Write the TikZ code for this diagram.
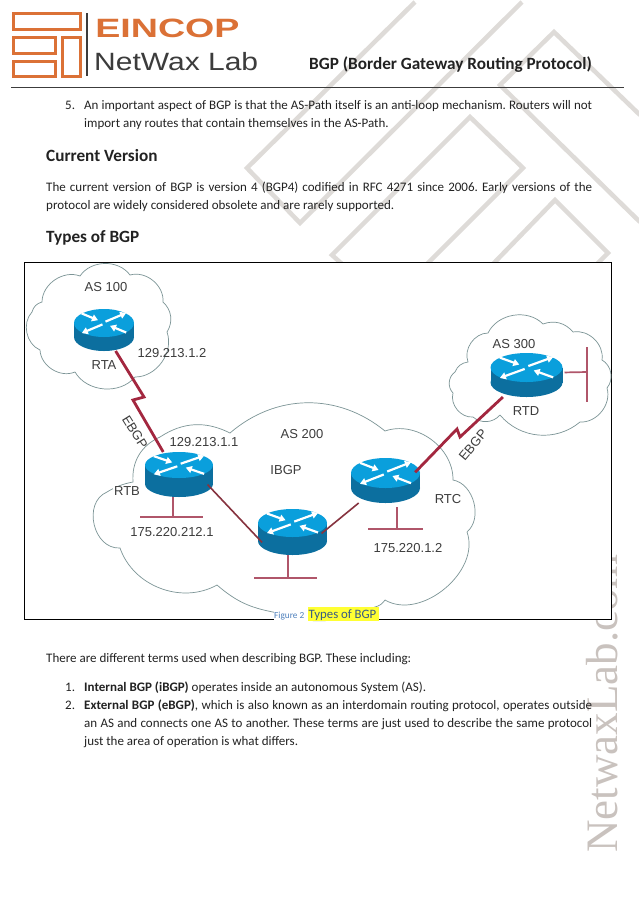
\documentclass[tikz,border=0pt]{standalone}
\usepackage{fontspec}
\setmainfont{Carlito}
\newfontfamily\lib{Liberation Sans}
\newfontfamily\libs{Liberation Serif}
\usetikzlibrary{arrows.meta}
\definecolor{wm}{HTML}{DEDBD8}
\definecolor{wmtext}{HTML}{C9C2BE}
\definecolor{logoor}{HTML}{DB7136}
\definecolor{cloudc}{HTML}{7C9496}
\definecolor{rtop}{HTML}{0A9FDC}
\definecolor{rbody}{HTML}{0C6F9F}
\definecolor{ebgpc}{HTML}{A3273F}
\definecolor{ibgpc}{HTML}{86333F}
\definecolor{stubc}{HTML}{B0566A}
\definecolor{labc}{HTML}{3C3C3C}
\definecolor{txt}{HTML}{222222}
\definecolor{capblue}{HTML}{4F81BD}
\definecolor{capyellow}{HTML}{FFFF33}
\tikzset{
  x=1pt,y=-1pt,
  wmline/.style={draw=wm,line width=4.5pt,line join=miter},
  logobox/.style={draw=logoor,line width=3pt},
  cloudline/.style={draw=cloudc,line width=.7pt},
  lobe/.style={bend left=55},
  ebgp/.style={draw=ebgpc,line width=2.8pt,line join=miter},
  ibgp/.style={draw=ibgpc,line width=1.6pt},
  stub/.style={draw=stubc,line width=1.7pt},
  lab/.style={font=\lib\fontsize{13}{15}\selectfont,text=labc,inner sep=0pt},
  body/.style={font=\fontsize{13}{15}\selectfont,text=txt,anchor=base west,inner sep=0pt},
  head/.style={font=\bfseries\fontsize{17.2}{20}\selectfont,text=txt,anchor=base west,inner sep=0pt},
  rarrow/.style={draw=white,line width=2.2pt,-{Triangle[width=7pt,length=6pt]}},
  routerbox/.style={inner sep=0pt,outer sep=0pt}
}
\newcommand{\router}[6]{%
  \begin{scope}[shift={(#2,#3)}]
    \fill[rbody] (-#4,0) rectangle (#4,#6);
    \fill[rbody] (0,#6) ellipse [x radius=#4,y radius=#5];
    \fill[rtop] (0,0) ellipse [x radius=#4,y radius=#5];
    \begin{scope}[xscale=#4,yscale=#5,x=1pt,y=-1pt]
      \draw[rarrow] (-.74,-.68) -- (-.2,-.2);
      \draw[rarrow] (.74,.68) -- (.2,.2);
      \draw[rarrow] (.05,-.1) -- (.74,-.72);
      \draw[rarrow] (-.05,.1) -- (-.74,.72);
    \end{scope}
    \node[routerbox,minimum width={2*#4*1pt},minimum height={(2*#5+#6)*1pt}] (#1) at (0,{#6/2}) {};
  \end{scope}}
\begin{document}
\frenchspacing
\begin{tikzpicture}
\useasboundingbox (0,0) rectangle (638,903);
\fill[white] (0,0) rectangle (638,903);
% watermark
\draw[wmline] (415,2) -- (247,168) -- (300,223) -- (522,2);
\draw[wmline] (342,264) -- (332,255) -- (470,117) -- (523,168) -- (427,264);
\draw[wmline] (640,115) -- (554,32) -- (500,85) -- (640,222);
\draw[wmline] (493,264) -- (555,200) -- (608,253) -- (597,264);
\node[font=\libs\fontsize{45}{50}\selectfont,text=wmtext,rotate=90,anchor=base west,inner sep=0pt] (wmt) at (617,853) {NetwaxLab.com};
% logo
\draw[logobox] (13,13) rectangle (80,29);
\draw[logobox] (13,37) rectangle (55,53);
\draw[logobox] (13,61) rectangle (55,76);
\draw[logobox] (62,37) rectangle (80,76);
\draw[draw=labc,line width=1.2pt] (87,13) -- (87,76);
\node[font=\lib\bfseries\fontsize{26.5}{28}\selectfont,text=logoor,anchor=base west,inner sep=0pt,xscale=1.42] (einc) at (95,37) {EINCOP};
\node[font=\lib\fontsize{25}{28}\selectfont,text=labc,anchor=base west,inner sep=0pt,xscale=1.2] (nwl) at (94,70) {NetWax Lab};
% header
\node[body,font=\bfseries\fontsize{17.2}{20}\selectfont] (title) at (309,69) {BGP (Border Gateway Routing Protocol)};
\draw[labc,line width=.8pt] (11,87.5) -- (624,87.5);
% text
\node[body] (n5) at (65,109) {5.};
\node[body] (l1) at (84,109) {\makebox[508pt][s]{An important aspect of BGP is that the AS-Path itself is an anti-loop mechanism. Routers will not}};
\node[body] (l2) at (84,127) {import any routes that contain themselves in the AS-Path.};
\node[head] (h1) at (46,161) {Current Version};
\node[body] (l3) at (46,191) {\makebox[546pt][s]{The current version of BGP is version 4 (BGP4) codified in RFC 4271 since 2006. Early versions of the}};
\node[body] (l4) at (46,209) {protocol are widely considered obsolete and are rarely supported.};
\node[head] (h2) at (46,242) {Types of BGP};
\node[body] (l5) at (46,662) {There are different terms used when describing BGP. These including:};
\node[body] (n1) at (65,691) {1.};
\node[body] (l6) at (84,691) {\textbf{Internal BGP (iBGP)} operates inside an autonomous System (AS).};
\node[body] (n2) at (65,709) {2.};
\node[body] (l7) at (84,709) {\makebox[508pt][s]{\textbf{External BGP (eBGP)}, which is also known as an interdomain routing protocol, operates outside}};
\node[body] (l8) at (84,727) {\makebox[508pt][s]{an AS and connects one AS to another. These terms are just used to describe the same protocol}};
\node[body] (l9) at (84,745) {just the area of operation is what differs.};
% figure frame
\filldraw[fill=white,draw=black,line width=1pt] (24.5,262.5) rectangle (611,619);
% clouds
\draw[cloudline] (42,302) to[lobe] (80,276) to[lobe] (130,275) to[lobe] (163,302) to[bend left=40] (167,332)
  to[lobe] (135,377) to[lobe] (75,372) to[lobe] (40,350) to[lobe] (32,312) to[bend left=30] cycle;
\draw[cloudline] (468,362) to[lobe] (488,333) to[lobe] (543,324) to[bend left=35] (573,332) to[lobe] (602,360) to[bend left=50] (607,388)
  to[lobe] (580,422) to[bend left=45] (500,415) to[bend left=45] (473,417) to[lobe] (453,393) to[bend left=50] (455,372) to[bend left=30] cycle;
\draw[cloudline] (107,492) to[bend left=10] (133,482) to[bend left=35] (160,437) to[bend left=30] (230,433)
  to[bend left=40] (385,431) to[lobe] (453,480) to[bend left=65] (467,532)
  to[bend left=70] (385,600) to[bend left=20] (375,607) to[bend left=22] (273,612) to[bend left=15] (217,585)
  to[bend left=50] (120,548) to[bend left=80,looseness=1.2] cycle;
% routers
\router{rta}{104}{323}{30}{14}{14}
\router{rtb}{179}{465}{34}{13}{19}
\router{rtm}{292.5}{523}{34.5}{14}{18}
\router{rtc}{385.5}{473}{34.5}{15}{15}
\router{rtd}{526.5}{367.5}{36}{14.5}{15}
% connectors
\coordinate (za1) at (144,397);
\coordinate (za2) at (133,400);
\coordinate (zd1) at (457,429);
\coordinate (zd2) at (460,437);
\draw[ebgp] (rta.-61) -- (za1) -- (za2) -- (rtb.125);
\draw[ebgp,shorten <=-7pt] (rtc.21.4) -- (zd1) -- (zd2) -- (rtd.223);
\draw[ibgp,shorten <=-8pt,shorten >=-6pt] (rtb.-25.9) -- (rtm.190.5);
\draw[ibgp,shorten <=-7pt] (rtm.5) -- (rtc.220.3);
% stubs
\coordinate (b1) at (173,517); \coordinate (b1a) at (140,517); \coordinate (b1b) at (203,517);
\coordinate (b2) at (288,578); \coordinate (b2a) at (254,578); \coordinate (b2b) at (317,578);
\coordinate (b3) at (397,529); \coordinate (b3a) at (368,529); \coordinate (b3b) at (423,529);
\coordinate (b4) at (587,372); \coordinate (b4a) at (587,347); \coordinate (b4b) at (587,402);
\draw[stub] (rtb.-105) -- (b1); \draw[stub] (b1a) -- (b1b);
\draw[stub] (rtm.-101) -- (b2); \draw[stub] (b2a) -- (b2b);
\draw[stub,shorten <=4pt] (rtc.-63) -- (b3); \draw[stub] (b3a) -- (b3b);
\draw[stub,shorten <=2pt] (rtd.4.8) -- (b4); \draw[stub] (b4a) -- (b4b);
% labels
\node[lab] (t1) at (106,287) {AS 100};
\node[lab] (t2) at (172,353) {129.213.1.2};
\node[lab] (t3) at (104,365) {RTA};
\node[lab,rotate=-58] (t4) at (135,432) {EBGP};
\node[lab] (t5) at (204,442) {129.213.1.1};
\node[lab] (t6) at (302,434) {AS 200};
\node[lab] (t7) at (286,470) {IBGP};
\node[lab,fill=white,inner sep=1pt] (t8) at (127,491) {RTB};
\node[lab] (t9) at (172,532) {175.220.212.1};
\node[lab] (t10) at (448,499) {RTC};
\node[lab] (t11) at (514,344) {AS 300};
\node[lab] (t12) at (526,411) {RTD};
\node[lab,rotate=50] (t13) at (473,445) {EBGP};
\node[lab] (t14) at (408,548) {175.220.1.2};
% caption
\fill[white] (274,611) rectangle (308,622);
\fill[capyellow] (308,607) rectangle (378.5,621);
\node[font=\fontsize{9.3}{10}\selectfont,text=capblue,anchor=base west,inner sep=0pt] (cap1) at (274,618) {Figure 2};
\node[font=\fontsize{12.8}{14}\selectfont,text=capblue!70!black,anchor=base west,inner sep=0pt] (cap2) at (308.5,618) {Types of BGP};
\end{tikzpicture}
\end{document}
